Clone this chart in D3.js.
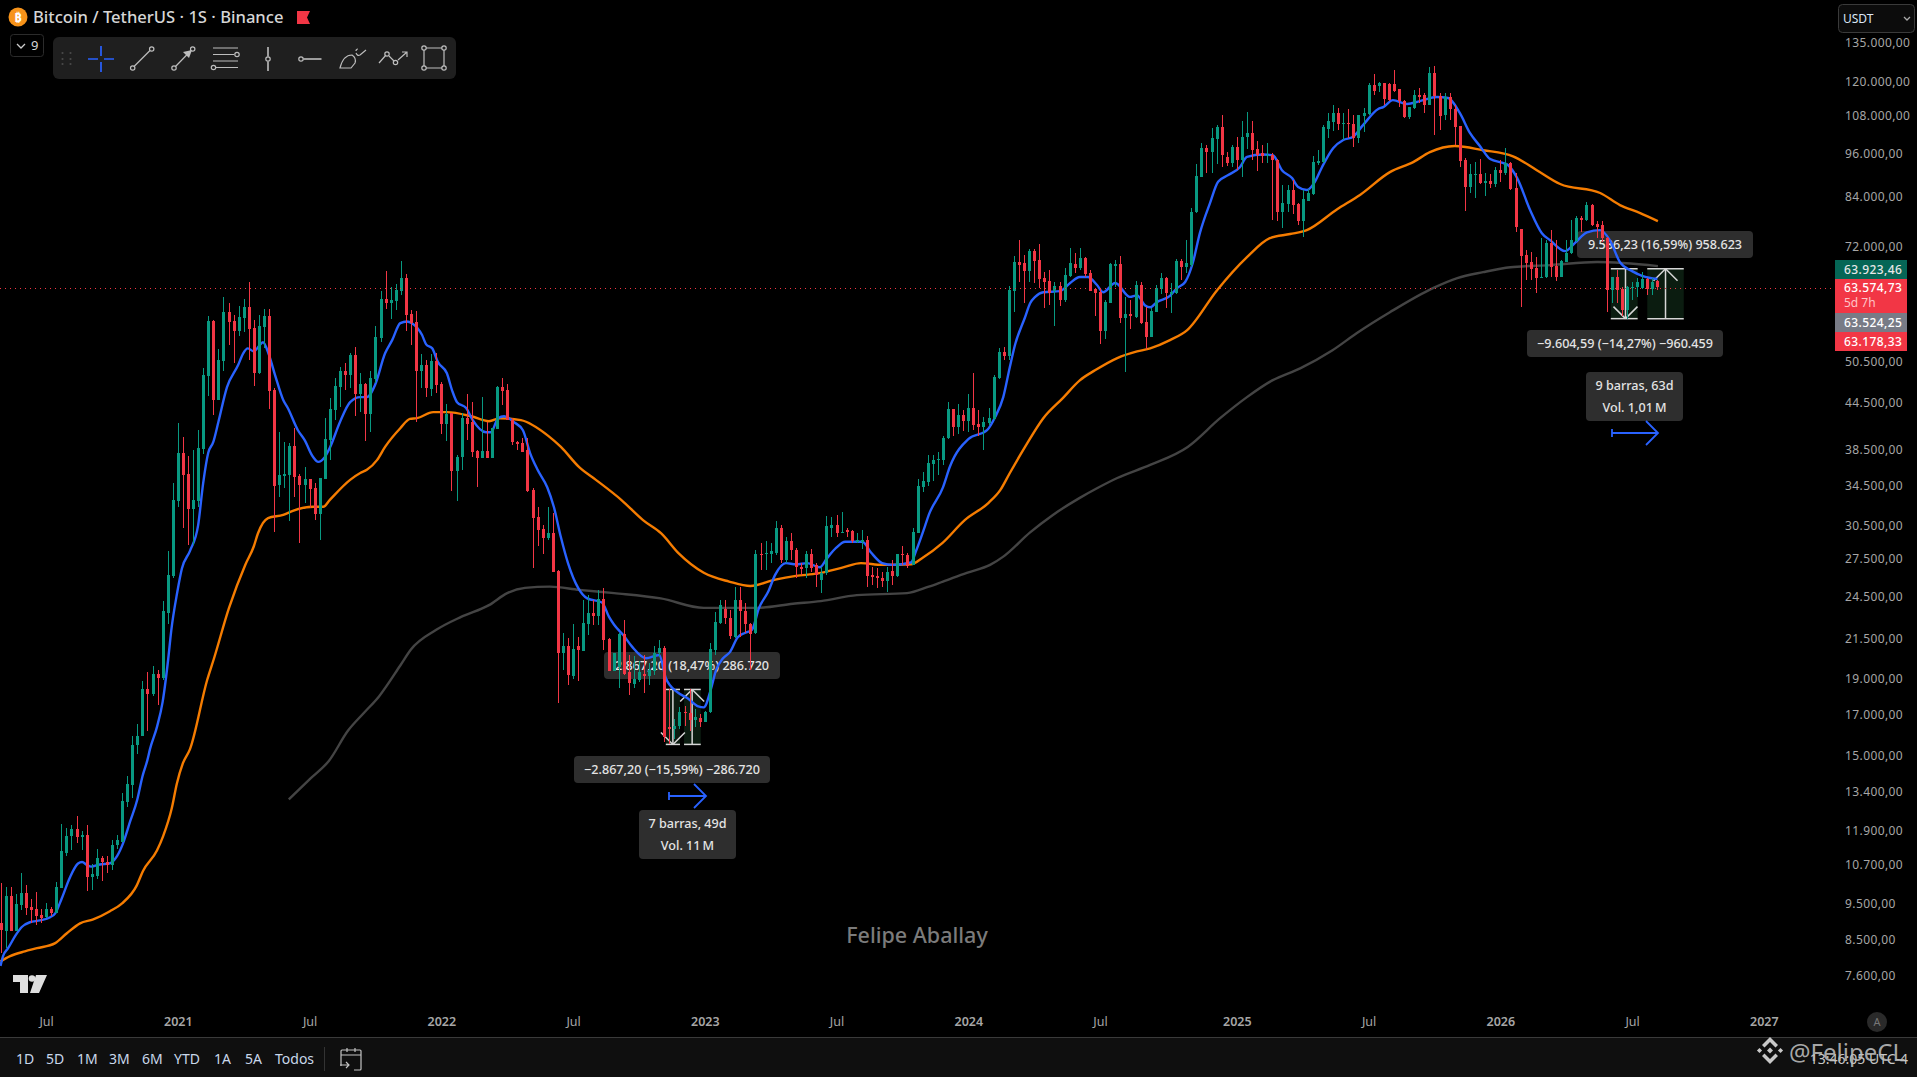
<!DOCTYPE html>
<html>
<head>
<meta charset="utf-8">
<script src="https://cdn.jsdelivr.net/npm/d3@7"></script>
<style>
  html, body { margin: 0; padding: 0; background: #000; overflow: hidden; }
  svg { display: block; }
  text { font-family: "Noto Sans", "Open Sans", sans-serif; }
</style>
</head>
<body>
<svg id="chart" width="1917" height="1077"></svg>
<script>
// weekly candles, thousands of USDT
const opens = [
  8.94,8.73,9.72,8.73,9.46,9.81,9.40,9.34,9.17,9.11,
  9.34,9.22,9.96,11.1,11.7,11.95,11.65,11.75,10.3,10.35,
  10.95,10.8,10.7,11.4,11.5,13.0,13.7,15.5,15.95,18.4,
  18.15,19.3,19.05,23.3,26.1,32.9,38.15,35.75,32.1,32.9,
  38.6,48.3,57.2,44.9,50.6,58.85,57.2,55.5,57.75,59.75,
  56.05,48.75,56.2,58.1,46.3,34.55,35.55,35.65,39.0,35.55,
  34.55,35.2,34.2,31.6,35.2,39.7,43.5,46.7,49.05,48.45,
  51.55,45.75,47.15,43.0,47.85,54.35,61.3,60.5,60.9,62.8,
  65.4,58.5,57.05,49.05,50.0,46.4,50.6,47.15,41.7,43.1,
  36.1,37.65,42.45,41.95,38.35,37.55,38.35,37.55,41.05,46.7,
  46.3,42.2,39.45,39.35,38.5,34.0,31.3,30.2,29.3,29.8,
  26.5,20.55,21.05,19.15,21.0,20.7,22.5,23.3,23.1,24.3,
  21.5,19.45,19.7,21.8,19.4,18.7,18.95,19.3,19.15,19.45,
  20.55,20.9,16.4,16.3,16.45,17.15,17.1,16.75,16.85,16.65,
  17.15,20.8,22.6,23.55,22.95,21.6,24.2,23.45,22.5,21.9,
  27.9,27.9,27.95,28.05,30.3,27.45,29.1,28.3,26.8,26.75,
  27.95,27.0,25.8,26.35,30.3,30.5,29.8,30.1,30.0,28.95,
  28.95,29.2,26.2,26.1,25.95,25.7,26.5,26.1,27.9,27.8,
  27.0,29.75,34.3,34.9,36.85,37.3,37.3,39.95,43.65,41.3,
  42.85,42.05,43.8,41.7,41.3,41.8,42.35,48.0,52.0,51.4,
  62.8,68.7,68.5,66.8,71.05,69.1,65.4,64.8,62.8,63.75,
  61.1,65.8,68.3,67.4,69.55,66.4,63.2,62.6,55.5,60.5,
  67.85,68.3,57.75,58.5,57.95,64.0,57.05,54.5,58.85,63.2,
  65.4,62.2,62.4,68.9,67.6,68.05,80.1,89.3,97.6,96.4,
  100.4,104.2,95.0,93.25,97.9,94.1,101.05,102.3,97.3,96.1,
  95.5,95.7,94.1,80.1,82.15,85.8,82.15,77.95,82.95,84.75,
  93.25,93.5,103.55,105.8,108.8,105.2,105.5,105.2,100.7,107.85,
  108.5,118.6,118.25,119.3,118.95,118.95,117.15,112.85,107.5,110.45,
  115.0,115.0,111.5,123.05,114.65,108.15,114.3,110.15,104.5,94.1,
  86.6,89.85,90.1,87.7,88.25,87.4,91.2,90.4,93.25,86.3,
  76.05,70.2,68.7,67.4,65.4,65.6,72.85,67.85,65.6,68.7,
  70.65,73.25,78.65,78.2,81.9,77.2,77.0,73.95,63.0,65.6,
  63.2,59.2,63.4,63.6,63.4,65.2,63.2,64.8
]
const closes = [
  8.76,9.72,8.73,9.49,9.81,9.37,9.31,9.14,9.08,9.34,
  9.22,9.99,11.16,11.7,11.95,11.65,11.75,10.3,10.4,10.95,
  10.8,10.7,11.4,11.55,13.05,13.75,15.5,15.95,18.4,18.15,
  19.3,19.05,23.4,26.2,33.0,38.15,35.65,32.1,33.0,38.75,
  48.45,57.2,44.9,50.8,58.85,57.05,55.5,57.95,59.75,55.85,
  48.75,56.4,58.1,46.15,34.45,35.65,35.75,39.0,35.4,34.55,
  35.2,34.1,31.6,35.3,39.8,43.65,46.85,49.05,48.45,51.55,
  45.75,47.15,43.0,48.0,54.5,61.3,60.5,61.1,63.0,65.4,
  58.3,56.9,49.05,50.0,46.55,50.6,47.0,41.7,43.0,36.1,
  37.65,42.45,41.7,38.25,37.55,38.35,37.55,41.15,46.7,46.15,
  42.2,39.45,39.2,38.25,33.9,31.2,30.1,29.3,29.8,26.45,
  20.55,21.05,19.2,20.85,20.8,22.6,23.3,23.1,24.3,21.4,
  19.45,20.6,21.8,19.3,18.75,19.0,19.4,19.15,19.5,20.6,
  20.9,15.9,16.3,16.45,17.15,17.1,16.75,16.9,16.65,17.15,
  20.85,22.65,23.85,22.95,21.7,24.2,23.45,22.5,21.8,27.9,
  27.8,28.05,28.2,30.3,27.45,29.1,28.3,26.8,26.65,27.95,
  26.75,26.2,26.35,30.4,30.5,29.8,29.9,29.9,29.1,29.2,
  29.2,26.1,26.05,25.95,25.7,26.45,26.1,27.9,27.8,26.9,
  29.9,34.45,35.0,37.0,37.3,37.4,39.95,43.65,41.3,42.85,
  42.05,43.8,41.55,41.3,41.95,42.45,48.15,52.0,51.4,63.0,
  68.7,68.05,66.8,71.05,68.9,65.2,64.6,62.4,63.75,61.1,
  66.0,68.5,67.4,69.55,66.2,62.8,62.4,55.5,60.7,68.3,
  68.3,57.75,58.5,58.1,64.0,56.9,54.5,59.0,63.4,65.4,
  62.4,62.6,68.9,67.6,68.5,80.1,89.6,97.6,96.4,100.7,
  104.2,95.5,93.25,97.9,94.1,101.05,102.3,97.0,95.7,95.2,
  95.7,94.1,80.1,82.4,85.8,81.9,77.95,83.45,85.0,93.5,
  93.8,104.2,106.15,108.8,105.2,105.5,105.2,100.7,108.15,108.8,
  118.6,116.45,119.3,113.55,113.2,116.45,112.85,107.5,110.8,115.0,
  114.3,111.5,123.05,114.65,107.85,114.3,110.15,104.2,93.8,86.6,
  90.1,90.1,87.7,88.25,87.4,91.2,90.4,93.25,86.05,76.5,
  70.0,68.5,67.2,65.4,65.6,72.85,67.6,65.6,68.9,70.65,
  73.5,78.65,78.2,81.9,77.0,76.5,73.95,63.0,65.6,63.0,
  59.2,63.6,63.6,64.6,65.2,63.2,64.6,63.57
]
const highs = [
  10.13,9.99,9.99,9.78,10.45,10.05,9.63,9.84,9.34,9.51,
  9.40,10.17,12.15,12.0,12.1,12.45,11.9,12.1,10.75,11.25,
  11.0,11.0,11.55,11.75,13.35,14.1,15.95,16.55,18.9,19.4,
  19.75,19.5,24.15,28.2,34.8,41.8,40.05,37.8,38.5,40.9,
  49.5,58.1,57.4,52.5,61.7,60.5,58.3,59.95,61.3,64.6,
  57.4,58.3,59.4,59.4,46.55,40.65,39.45,39.35,41.15,35.75,
  36.5,35.2,34.75,35.3,42.45,45.2,48.0,49.7,50.3,51.85,
  52.8,48.75,47.3,49.05,56.4,62.8,66.8,63.6,64.2,68.9,
  66.2,59.2,59.0,51.7,50.8,51.7,51.85,47.4,44.35,43.1,
  37.9,43.1,45.75,44.6,38.5,45.3,41.95,41.15,46.85,48.0,
  47.15,42.45,39.6,39.95,39.95,34.2,32.3,30.5,32.3,31.7,
  26.6,21.9,21.55,22.5,21.6,24.2,24.6,24.2,25.0,25.15,
  21.55,20.6,21.9,22.8,20.45,20.4,20.1,20.45,19.95,21.0,
  21.4,21.0,18.4,16.8,17.4,17.45,18.4,17.3,17.05,17.2,
  21.2,23.35,24.2,24.2,23.5,25.25,25.25,24.0,22.6,28.3,
  28.85,29.1,28.85,30.9,30.5,29.4,29.75,28.45,27.2,28.2,
  28.4,27.2,26.8,31.4,31.3,31.5,31.8,30.3,30.1,29.8,
  30.1,29.55,26.8,26.75,26.45,26.8,27.4,27.95,28.65,28.05,
  30.3,35.2,36.0,37.9,37.9,38.25,40.2,44.6,43.65,44.35,
  43.5,45.75,48.75,43.5,42.6,43.8,48.45,52.65,52.8,63.75,
  70.0,73.5,70.2,71.5,71.5,72.6,66.6,67.0,64.6,64.6,
  67.4,71.75,70.65,71.75,69.75,67.0,63.4,63.2,61.1,68.5,
  69.1,70.0,61.7,61.1,64.8,64.6,59.75,59.6,64.0,66.4,
  65.6,64.4,69.3,69.3,73.5,81.1,92.95,99.2,98.55,103.85,
  104.8,108.15,96.4,98.55,101.05,106.15,109.15,106.15,99.8,98.55,
  99.2,96.1,94.4,87.15,87.15,88.5,82.4,85.8,86.05,95.2,
  97.0,104.8,108.8,111.5,110.45,108.8,110.1,108.15,108.15,110.45,
  119.3,122.7,119.7,119.3,119.3,124.2,117.15,113.2,110.8,116.8,
  117.5,115.7,125.4,125.8,115.7,115.7,115.7,111.5,104.5,94.7,
  92.95,93.5,94.4,90.4,90.1,92.05,94.1,97.6,93.5,90.4,
  76.05,71.3,70.85,69.75,73.95,73.5,75.8,73.5,69.1,73.5,
  78.2,79.15,79.15,82.7,82.15,77.95,77.95,74.2,65.6,67.0,
  63.6,63.75,64.6,65.4,66.6,65.4,65.4,65.0
]
const lows = [
  8.15,8.28,8.73,8.73,9.31,9.17,8.94,8.89,8.94,9.08,
  9.14,9.22,9.96,11.0,11.2,11.45,11.2,9.87,9.9,10.25,
  10.2,10.45,10.55,11.25,11.5,12.8,13.15,15.05,15.95,16.2,
  18.0,17.55,18.95,22.5,25.95,32.3,30.3,28.75,28.75,32.3,
  38.0,45.45,42.85,44.9,49.05,53.15,50.3,54.65,55.35,50.8,
  46.85,48.6,52.65,43.65,29.9,33.3,34.2,30.9,33.3,28.85,
  32.7,32.2,31.0,29.2,35.2,37.3,42.2,43.9,46.3,46.55,
  42.7,43.25,39.6,40.65,47.3,53.65,59.4,57.6,59.2,62.05,
  55.5,53.15,41.95,46.55,45.3,45.45,45.9,40.4,39.6,33.9,
  32.9,36.2,39.7,37.65,34.3,37.55,37.55,37.55,41.05,44.2,
  42.2,39.1,38.5,38.25,33.8,26.75,28.65,27.95,29.2,26.45,
  17.65,19.5,18.65,19.0,18.85,20.7,21.75,22.45,22.45,20.8,
  19.45,19.45,18.5,19.25,18.1,18.5,18.8,18.2,18.65,19.2,
  20.3,15.65,15.55,15.8,16.3,16.45,16.2,16.4,16.4,16.65,
  17.1,20.45,22.5,22.5,21.5,21.55,21.6,21.9,19.55,21.8,
  26.6,26.6,27.15,27.8,27.15,27.15,27.4,25.95,26.2,25.95,
  26.45,25.25,24.75,26.2,29.4,29.45,29.8,29.4,28.85,28.85,
  28.4,25.25,25.4,25.15,25.25,24.85,25.4,26.05,27.0,26.75,
  27.0,29.75,33.8,34.45,35.0,35.65,36.75,39.8,40.2,40.4,
  40.8,40.65,40.9,40.2,38.5,41.55,42.2,47.85,50.8,50.8,
  58.85,64.6,60.5,64.6,64.4,63.4,59.6,60.2,56.4,59.95,
  60.7,65.6,66.4,67.0,65.6,62.8,58.1,53.3,54.15,60.5,
  63.6,56.9,48.9,55.85,57.75,56.7,52.5,54.5,58.85,62.2,
  59.6,58.65,62.2,65.0,66.4,67.6,79.85,89.3,90.4,90.4,
  92.95,92.1,92.35,92.1,91.2,89.3,97.3,94.1,90.95,93.25,
  93.25,78.2,77.95,76.3,80.1,79.65,77.0,74.2,82.95,84.5,
  92.65,93.25,100.7,102.9,103.2,100.1,100.7,97.9,99.2,102.6,
  108.15,115.0,116.1,111.5,112.85,116.1,110.8,107.15,106.85,110.15,
  112.2,108.8,111.5,101.65,103.2,106.5,106.5,98.55,92.1,80.35,
  85.0,83.7,87.4,84.25,86.3,86.6,88.0,89.85,85.8,75.3,
  59.75,65.0,65.0,62.4,65.4,65.4,65.6,64.8,65.6,68.7,
  70.45,73.0,75.3,77.95,76.75,73.95,73.0,58.85,60.5,60.5,
  58.1,57.6,61.1,61.65,63.2,62.05,62.05,63.0
]

// moving averages: bar position and value (thousands of USDT)
const blueBars = [0,0.5,1.5,3,4.2,5.8,7.8,9.8,10.8,12.1,13.7,15.3,16.1,17.1,17.9,19.6,21.4,23,24.2,25.6,27,28,29,29.5,30.9,32,33.1,33.7,34.9,35.8,37.4,39,40,41,42,43,44.7,46.9,47.9,48.8,50,51,51.8,53,54.2,55.8,56.7,58.7,60,61.7,62.7,64,65,67,69,71,72.3,73.9,75.9,77.3,78.9,80.2,81.2,83.2,84,85.2,86.3,88.1,89.1,90.1,91.9,93.2,95.8,96.8,98.2,99.4,101.3,103.1,104.5,106,107.9,109.2,110.6,112,114,115.8,118.7,120.1,121.1,122.9,124.6,127.4,130,131.3,133.5,135.6,137.7,138.8,140.2,141.2,142.6,144,145.5,147,148.3,149.7,151.5,152.9,155,157,159.2,161.7,163.1,164.9,166.7,170.1,171.8,174,176.1,179.7,180.7,182.5,183.2,186,187.4,191,194.7,196.3,197.9,199.2,200.2,202.2,203.2,204.2,205.8,209.1,211.1,213,214.6,216.4,217.6,220,222.9,224.3,225.9,226.9,228.2,230.8,232.2,233.8,235.3,236.7,238.7,240.3,242.3,244.6,246,249.2,251.1,252.9,254.9,256.1,257.8,259.4,260.8,263,265,266.9,268.9,271.9,272.9,274.8,277.6,280.1,283.5,285.7,288,290,292,294,296.5,297.5,299.3,301.9,304.2,305.8,308.8,310.7,313.1,315.7,317.6,319.6,322,324.1,327]
const blueValues = [7.84,8.08,8.28,8.62,8.84,8.97,9.02,9.11,9.22,9.66,10.3,10.75,10.8,10.7,10.65,10.72,10.75,11.0,11.45,12.25,13.1,14.05,14.8,15.3,16.4,17.7,20.2,22.05,24.85,26.7,28.2,30.5,34.75,38.15,39.45,41.95,46.7,50.0,51.85,52.65,52.15,53.0,53.65,51.55,48.45,44.9,43.8,40.9,39.7,37.65,37.1,37.65,38.75,41.95,44.6,45.3,45.3,47.0,51.85,54.0,56.9,57.2,56.9,54.85,53.3,52.65,50.5,48.75,46.3,44.6,43.8,42.2,40.65,40.65,42.45,42.7,41.95,40.9,38.15,36.2,34.3,32.3,29.4,27.15,25.15,24.35,24.05,23.0,22.45,21.75,21.0,20.25,20.45,19.05,18.25,17.9,17.45,17.4,18.4,19.5,20.25,20.65,21.6,21.9,22.1,23.65,24.85,26.2,27.15,27.05,27.15,26.8,27.55,28.45,29.0,29.0,28.05,27.15,27.0,27.2,28.2,30.5,31.5,34.3,36.6,39.8,40.9,42.6,45.3,49.7,53.15,57.95,60.5,61.7,62.6,62.8,64.4,65.6,65.6,64.0,62.6,64.4,61.7,62.0,60.1,59.75,60.7,61.9,63.4,64.6,68.5,75.1,82.4,88.0,89.85,92.05,95.0,95.7,95.5,91.2,89.0,86.6,85.8,88.0,92.05,97.6,100.1,101.05,104.8,110.15,110.8,113.2,111.85,112.85,114.3,113.95,108.8,102.3,98.2,94.4,93.25,92.65,89.05,80.6,75.1,73.5,71.05,72.85,75.3,75.8,73.5,68.7,66.8,65.8,65.2]
const orangeBars = [0,1.9,4.8,7.2,10.8,13.1,15.7,18.3,21.6,24,26.9,28.1,30.9,32.1,33.8,34.8,36,37.4,40.8,42.1,45.1,48.3,50,50.8,52.8,55.8,57.7,61.7,63.7,65,69,71,72.3,74.3,75.9,78.9,80.8,82.2,85.4,88.1,92.9,96.4,98.6,102.7,108.1,110.6,114.2,117.5,122.5,126.8,130.4,133.9,138.8,143.8,148,152.9,157,161.3,166.3,169.8,174,179.7,182,185.8,190.3,195,197.3,199.2,202.2,205.8,209.7,213,216,220.4,224.3,226.9,230.8,234.2,240.1,246,250.5,254.5,257.8,263.8,268.3,274.2,278.8,282.1,287,292.6,298.5,303.2,307.8,315.7,319.6,323.6,327.1]
const orangeValues = [7.95,8.08,8.2,8.28,8.41,8.67,8.94,9.05,9.28,9.51,10.05,10.5,11.2,11.7,12.75,13.75,14.65,15.3,18.95,20.2,23.65,27.0,28.6,29.75,31.2,31.5,31.9,32.3,32.3,33.0,35.1,35.85,36.2,37.3,38.85,41.15,42.35,42.45,43.25,43.25,42.7,42.05,42.45,42.2,40.2,38.85,36.5,35.1,33.0,31.0,29.75,27.95,26.35,25.65,25.3,25.8,26.1,26.3,26.8,27.15,27.0,27.05,27.6,28.85,31.0,32.7,34.0,35.85,38.85,42.45,45.2,47.7,49.2,51.1,52.15,52.65,54.0,55.7,63.0,69.75,73.95,74.9,75.8,80.85,84.5,90.65,93.5,96.4,98.25,97.0,95.2,91.2,87.4,85.0,81.9,79.9,77.95]
const grayBars = [56.9,61.3,64.8,68.6,71.7,74.7,78.9,81,86,90.9,96.4,100,103.5,108.4,114.2,121.1,130.3,138.8,149.3,156.4,161.9,169,178.9,183.2,186,190.7,195.3,197.9,203.2,207.7,213,216.4,220.4,226.9,234.3,240.7,246,251,256.5,262.8,267.7,274.2,282.7,287.5,292.6,298,305.8,315.1,327.1]
const grayValues = [13.1,14.0,14.75,16.2,17.1,18.0,19.8,20.8,22.1,23.0,23.85,24.75,25.15,25.25,25.0,24.75,24.35,23.65,23.65,23.95,24.15,24.6,24.75,25.25,25.65,26.35,27.0,27.7,29.85,31.5,33.2,34.2,35.3,36.75,38.85,42.45,45.3,47.7,49.5,52.3,55.2,58.85,63.4,65.4,66.6,67.6,68.05,68.7,67.85]

// axes
const priceTicks = [135000,120000,108000,96000,84000,72000,50500,44500,38500,34500,30500,27500,24500,21500,19000,17000,15000,13400,11900,10700,9500,8500,7600]
const timeTickBars = [9,35,61,87,113,139,165,191,217,244,270,296,322,348]
const timeTickLabels = ['Jul','2021','Jul','2022','Jul','2023','Jul','2024','Jul','2025','Jul','2026','Jul','2027']
const yearTicks = ['2021','2022','2023','2024','2025','2026','2027']

// price scale badges
const badgeValues = ['63.923,46','63.574,73','63.524,25','63.178,33']
const lastPrice = 63574.73

// measure tools: bars and prices of the two drawings
const measureTops = [18390, 67300]
const measureBottoms = [15523, 57700]
const measureDownBars = [[131.3, 134.1, 132.7], [317.8, 323.1, 320.7]]
const measureUpBars = [[134.9, 138.2, 136.5], [325.0, 332.2, 328.6]]
const measureLabels = [
  ['2.867,20 (18,47%) 286.720', '\u22122.867,20 (\u221215,59%) \u2212286.720', '7 barras, 49d', 'Vol. 11\u2009M'],
  ['9.586,23 (16,59%) 958.623', '\u22129.604,59 (\u221214,27%) \u2212960.459', '9 barras, 63d', 'Vol. 1,01\u2009M']
]
const rangeButtons = ['1D','5D','1M','3M','6M','YTD','1A','5A','Todos']

const green = '#089981'
const red = '#F23645'
const blue = '#2962FF'
const orange = '#F57C00'

const svg = d3.select('#chart')
const x = d3.scaleLinear().domain([0, 348]).range([0.5, 0.5 + 5.067 * 348])
const y = d3.scaleLog().domain([7600, 135000]).range([976, 43])

const fmt = d3.formatLocale({ decimal: ',', thousands: '.', grouping: [3], currency: ['', ''] }).format(',.2f')

svg.append('rect').attr('width', 1917).attr('height', 1077).attr('fill', '#000')

// drawings sit under the series
const tools = svg.append('g')

measureTops.forEach((top, t) => {
  const yTop = y(top)
  const yBot = y(measureBottoms[t])
  const down = measureDownBars[t]
  const up = measureUpBars[t]

  ;[down, up].forEach(b => {
    tools.append('rect')
      .attr('x', x(b[0])).attr('y', yTop)
      .attr('width', x(b[1]) - x(b[0])).attr('height', yBot - yTop)
      .attr('fill', '#0b1c10')
  })

  const white = '#d6d6d6'
  const seg = (x1, y1, x2, y2) => tools.append('line')
    .attr('x1', x1).attr('y1', y1).attr('x2', x2).attr('y2', y2)
    .attr('stroke', white).attr('stroke-width', 1.5)

  // down arrow
  const dx = x(down[2])
  seg(x(down[0]), yTop, x(down[1]), yTop)
  seg(x(down[0]), yBot, x(down[1]), yBot)
  seg(dx, yTop, dx, yBot)
  seg(dx, yBot, dx - 12, yBot - 12)
  seg(dx, yBot, dx + 12, yBot - 12)

  // up arrow
  const ux = x(up[2])
  seg(x(up[0]), yTop, x(up[1]), yTop)
  seg(x(up[0]), yBot, x(up[1]), yBot)
  seg(ux, yTop, ux, yBot)
  seg(ux, yTop, ux - 12, yTop + 12)
  seg(ux, yTop, ux + 12, yTop + 12)
})

const labelBoxes = [
  { x: 604, y: 652, w: 176, h: 27, t: [measureLabels[0][0]] },
  { x: 574, y: 756, w: 196, h: 27, t: [measureLabels[0][1]] },
  { x: 639, y: 810, w: 97, h: 49, t: [measureLabels[0][2], measureLabels[0][3]] },
  { x: 1577, y: 231, w: 176, h: 27, t: [measureLabels[1][0]] },
  { x: 1527, y: 330, w: 196, h: 27, t: [measureLabels[1][1]] },
  { x: 1586, y: 372, w: 97, h: 49, t: [measureLabels[1][2], measureLabels[1][3]] }
]
labelBoxes.forEach(b => {
  tools.append('rect').attr('x', b.x).attr('y', b.y).attr('width', b.w).attr('height', b.h)
    .attr('rx', 4).attr('fill', '#2e2e2e')
  b.t.forEach((s, k) => {
    tools.append('text')
      .attr('x', b.x + b.w / 2)
      .attr('y', b.t.length === 1 ? b.y + b.h / 2 + 4.5 : b.y + 17.5 + k * 22)
      .attr('text-anchor', 'middle').attr('font-size', 12.6).attr('font-weight', 500)
      .attr('fill', '#e4e4e4').text(s)
  })
})

// horizontal blue bar-range arrows
const rangeArrows = [
  { x1: 669, x2: 706, y: 796 },
  { x1: 1612, x2: 1658, y: 433 }
]
rangeArrows.forEach(a => {
  const p = d3.path()
  p.moveTo(a.x1, a.y); p.lineTo(a.x2, a.y)
  p.moveTo(a.x2 - 12, a.y - 12); p.lineTo(a.x2, a.y); p.lineTo(a.x2 - 12, a.y + 12)
  p.moveTo(a.x1, a.y - 4); p.lineTo(a.x1, a.y + 4)
  tools.append('path').attr('d', p.toString()).attr('fill', 'none').attr('stroke', blue).attr('stroke-width', 1.8)
})

// moving averages
const line = d3.line().x(d => x(d[0])).y(d => y(d[1] * 1000)).curve(d3.curveMonotoneX)
const series = [
  { bars: grayBars, vals: grayValues, color: '#444444', w: 2.4 },
  { bars: orangeBars, vals: orangeValues, color: orange, w: 2.4 },
  { bars: blueBars, vals: blueValues, color: blue, w: 2.4 }
]
svg.append('g').selectAll('path').data(series).join('path')
  .attr('d', s => line(s.bars.map((b, i) => [b, s.vals[i]])))
  .attr('fill', 'none').attr('stroke', s => s.color).attr('stroke-width', s => s.w)
  .attr('stroke-linejoin', 'round')

// candles
const candles = svg.append('g').attr('shape-rendering', 'crispEdges')
const bars = d3.range(opens.length)
const candleColor = i => closes[i] >= opens[i] ? green : red
const pxX = i => Math.round(x(i))

candles.selectAll('rect.wick').data(bars).join('rect').attr('class', 'wick')
  .attr('x', i => pxX(i))
  .attr('width', 1)
  .attr('y', i => y(highs[i] * 1000))
  .attr('height', i => y(lows[i] * 1000) - y(highs[i] * 1000))
  .attr('fill', candleColor)

candles.selectAll('rect.body').data(bars).join('rect').attr('class', 'body')
  .attr('x', i => pxX(i) - 1)
  .attr('width', 3)
  .attr('y', i => y(Math.max(opens[i], closes[i]) * 1000))
  .attr('height', i => Math.max(1, Math.abs(y(opens[i] * 1000) - y(closes[i] * 1000))))
  .attr('fill', candleColor)

// last price dotted line
svg.append('line')
  .attr('x1', 0).attr('x2', 1835)
  .attr('y1', Math.ceil(y(lastPrice)) + 0.5).attr('y2', Math.ceil(y(lastPrice)) + 0.5)
  .attr('stroke', red).attr('stroke-width', 1).attr('stroke-dasharray', '1 4')

// watermark and logo
svg.append('text').attr('x', 917).attr('y', 943).attr('text-anchor', 'middle')
  .attr('font-size', 21.5).attr('font-weight', 500).attr('font-family', 'Open Sans').attr('fill', '#7b7b7b').text('Felipe Aballay')

svg.append('path')
  .attr('d', 'M13 975h15v18h-8v-11h-7z M36 975h11l-8 18h-9z')
  .attr('fill', '#dedede')
svg.append('circle').attr('cx', 32).attr('cy', 978.5).attr('r', 3.3).attr('fill', '#dedede')

// price axis
const yAxis = svg.append('g').attr('transform', 'translate(1845,0)')
  .call(d3.axisRight(y).tickValues(priceTicks).tickSize(0).tickPadding(0).tickFormat(d => fmt(d)))
yAxis.select('.domain').remove()
yAxis.selectAll('text').attr('font-size', 12).attr('fill', '#a6a6a6').style('letter-spacing', '0.4px')
  .attr('font-family', '"Noto Sans"')

// time axis
const xAxis = svg.append('g').attr('transform', 'translate(0,1017)')
  .call(d3.axisBottom(x).tickValues(timeTickBars).tickSize(0).tickPadding(0)
    .tickFormat((d, i) => timeTickLabels[i]))
xAxis.select('.domain').remove()
xAxis.selectAll('text').attr('font-size', 12.5).attr('font-family', '"Noto Sans"')
  .attr('fill', '#a6a6a6')
  .attr('font-weight', (d, i) => yearTicks.includes(timeTickLabels[i]) ? 600 : 400)

// right badges
const badges = [
  { y: 260, h: 19, fill: '#056656', color: '#e8e8e8', i: 0 },
  { y: 279, h: 34, fill: red, color: '#ffffff', i: 1 },
  { y: 313, h: 19, fill: '#787B86', color: '#ffffff', i: 2 },
  { y: 332, h: 19, fill: red, color: '#ffffff', i: 3 }
]
badges.forEach(b => {
  svg.append('rect').attr('x', 1835).attr('y', b.y).attr('width', 72).attr('height', b.h).attr('fill', b.fill)
  svg.append('text').attr('x', 1844).attr('y', b.y + (b.i === 1 ? 13 : 14)).attr('font-size', 12).attr('font-weight', 500)
    .style('letter-spacing', '0.4px').attr('fill', b.color).text(badgeValues[b.i])
})
svg.append('text').attr('x', 1844).attr('y', 306.5).attr('font-size', 12).attr('fill', '#ffc4c8').text('5d 7h')

// USDT selector
svg.append('rect').attr('x', 1838.5).attr('y', 4.5).attr('width', 76).attr('height', 28).attr('rx', 4)
  .attr('fill', '#0c0c0c').attr('stroke', '#3a3a3a')
svg.append('text').attr('x', 1843).attr('y', 23).attr('font-size', 12).attr('fill', '#dbe6f5').text('USDT')
svg.append('path').attr('d', 'M1904 17l3 3 3-3').attr('fill', 'none').attr('stroke', '#aaa').attr('stroke-width', 1.3)

// A badge
svg.append('circle').attr('cx', 1877).attr('cy', 1022).attr('r', 10).attr('fill', '#2a2a2a')
svg.append('text').attr('x', 1877).attr('y', 1026).attr('text-anchor', 'middle')
  .attr('font-size', 11).attr('fill', '#777').text('A')

// bottom bar
svg.append('rect').attr('y', 1037).attr('width', 1917).attr('height', 40).attr('fill', '#0f0f0f')
svg.append('line').attr('x1', 0).attr('x2', 1917).attr('y1', 1037.5).attr('y2', 1037.5).attr('stroke', '#3a3a3a')

const buttonStarts = [16, 46, 77, 109, 142, 174, 214, 245, 275]
rangeButtons.forEach((s, i) => {
  svg.append('text').attr('x', buttonStarts[i]).attr('y', 1064).attr('font-size', 14)
    .attr('fill', '#c9d8ea').text(s)
})
svg.append('line').attr('x1', 324.5).attr('x2', 324.5).attr('y1', 1047).attr('y2', 1071).attr('stroke', '#333')
svg.append('path')
  .attr('d', 'M341 1066v-15a1 1 0 0 1 1-1h18a1 1 0 0 1 1 1v18a1 1 0 0 1-1 1h-6 M341 1055h20 M347 1048v4 M355 1048v4 M340 1065h9 M346 1062l3 3-3 3')
  .attr('fill', 'none').attr('stroke', '#c4c4c4').attr('stroke-width', 1.2)

// binance mark and handle over the clock
svg.append('text').attr('x', 1908).attr('y', 1064).attr('text-anchor', 'end').attr('font-size', 14)
  .attr('fill', '#c8c8c8').text('13:46:05 UTC-4')
const binance = svg.append('g').attr('fill', '#c8c8c8').attr('transform', 'translate(1770,1050.5)')
binance.append('path').attr('d', 'M0 -13.5L8 -5.5L5.5 -3L0 -8.5L-5.5 -3L-8 -5.5Z')
binance.append('path').attr('d', 'M0 13.5L8 5.5L5.5 3L0 8.5L-5.5 3L-8 5.5Z')
binance.append('path').attr('d', 'M-10.5 -2.6L-7.9 0L-10.5 2.6L-13.1 0Z')
binance.append('path').attr('d', 'M10.5 -2.6L13.1 0L10.5 2.6L7.9 0Z')
binance.append('path').attr('d', 'M0 -3L3 0L0 3L-3 0Z')
svg.append('text').attr('x', 1789).attr('y', 1061).attr('font-size', 24)
  .attr('fill', '#bcbcbc').attr('fill-opacity', 0.9).text('@FelipeCL')

// header
svg.append('circle').attr('cx', 18).attr('cy', 17).attr('r', 9.5).attr('fill', '#F7931A')
svg.append('text').attr('x', 18).attr('y', 21.5).attr('text-anchor', 'middle')
  .attr('font-size', 13).attr('font-weight', 700).attr('fill', '#fff').text('\u20BF')
svg.append('text').attr('x', 33).attr('y', 23).attr('font-size', 16.6).attr('font-weight', 500)
  .attr('fill', '#d6d6d6').text('Bitcoin / TetherUS \u00B7 1S \u00B7 Binance')
svg.append('path').attr('d', 'M297 11h13l-3 6.5 3 6.5h-13z').attr('fill', red)

// collapsed indicators counter
svg.append('rect').attr('x', 10.5).attr('y', 34.5).attr('width', 33).attr('height', 22).attr('rx', 3)
  .attr('fill', '#000').attr('stroke', '#2b2b2b')
svg.append('path').attr('d', 'M17 44l4 4 4-4').attr('fill', 'none').attr('stroke', '#ccc').attr('stroke-width', 1.3)
svg.append('text').attr('x', 31).attr('y', 50).attr('font-size', 13).attr('fill', '#d6d6d6').text('9')

// drawing toolbar
const bar = svg.append('g')
bar.append('rect').attr('x', 53).attr('y', 37).attr('width', 403).attr('height', 42).attr('rx', 6).attr('fill', '#1f1f1f')
;[62.5, 70.5].forEach(dx => [53, 59, 64].forEach(dy => {
  bar.append('circle').attr('cx', dx).attr('cy', dy).attr('r', 1.1).attr('fill', '#4a4a4a')
}))
bar.append('path').attr('d', 'M88 59h10 M104 59h10 M101 46v10 M101 62v10').attr('stroke', blue).attr('stroke-width', 1.7).attr('fill', 'none')
const ic = bar.append('g').attr('fill', 'none').attr('stroke', '#bdbdbd').attr('stroke-width', 1.2)
const dot = (cx, cy) => ic.append('circle').attr('cx', cx).attr('cy', cy).attr('r', 2.2)
ic.append('path').attr('d', 'M134 66.5L150 50.5')
dot(132.7, 68); dot(151.7, 49)
ic.append('path').attr('d', 'M175.5 66.5L191 50.5')
bar.append('path').attr('d', 'M192 50l-9 2 6 6z').attr('fill', '#bdbdbd')
dot(174, 68); dot(192.7, 49)
ic.append('path').attr('d', 'M213 48h25 M213 54.5h21 M213 61h25 M216 67.5h22')
dot(237, 54.5); dot(213.5, 67.5)
ic.append('path').attr('d', 'M268 47v9.5 M268 61.5v9.5').attr('stroke-width', 1.6)
dot(268, 59)
ic.append('path').attr('d', 'M303.5 59h18').attr('stroke-width', 1.6)
dot(301, 59)
ic.append('path').attr('d', 'M340 68c2-8 6-13 12-13 3 2 4 5 3 8l-4 5z M356 53c1 2 2 3 4 2l6-5 M356 51c0-1 1-2 2-2')
ic.append('path').attr('d', 'M379 63l7-8 M389 56l5 5 M398 60l9-8 M402 52h5v5')
dot(387, 54); dot(395.5, 62.5)
ic.append('path').attr('d', 'M426 48h16 M426 68h16 M424 50v16 M444 50v16')
dot(424, 48); dot(444, 48); dot(424, 68); dot(444, 68)
</script>
</body>
</html>
